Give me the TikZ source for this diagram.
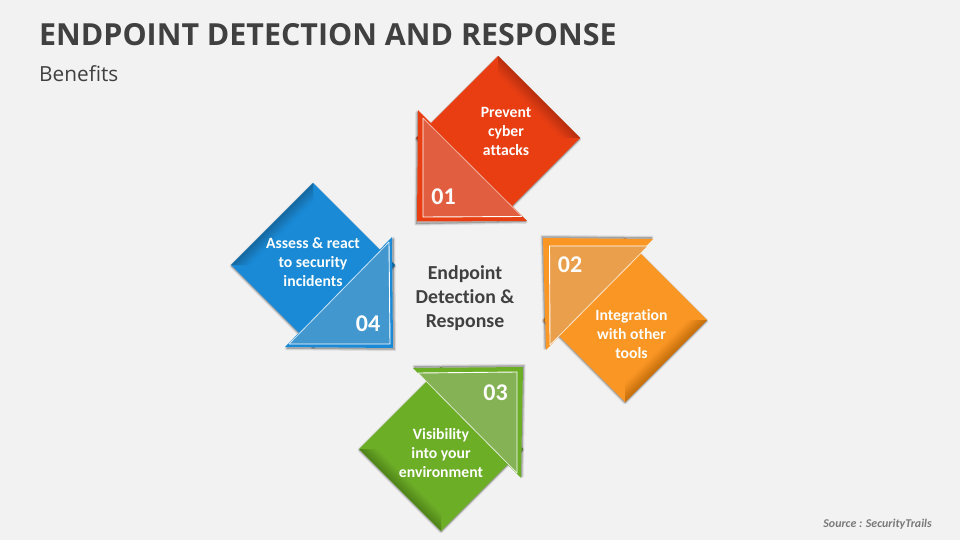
\documentclass[tikz,border=0pt]{standalone}
\usepackage{fontspec}
\setmainfont{Carlito}[Ligatures={NoCommon}]
\newfontfamily\titlefont{Open Sans}
\usetikzlibrary{calc}
\definecolor{bg}{HTML}{F2F2F2}
\definecolor{ink}{HTML}{404040}
\definecolor{redA}{HTML}{E93E12}\definecolor{redB}{HTML}{B93010}\definecolor{redT}{HTML}{E15F40}
\definecolor{orgA}{HTML}{FA9624}\definecolor{orgB}{HTML}{C66F0C}\definecolor{orgT}{HTML}{E99F4C}
\definecolor{grnA}{HTML}{6DAE27}\definecolor{grnB}{HTML}{4F8318}\definecolor{grnT}{HTML}{84B254}
\definecolor{bluA}{HTML}{1A8AD6}\definecolor{bluB}{HTML}{14689F}\definecolor{bluT}{HTML}{4297CF}
\tikzset{
  x=1pt,y=-1pt,
  label text/.style={text=white,font=\fontsize{15.7}{19}\selectfont\bfseries,align=center,inner sep=0pt},
  num text/.style={text=white,font=\fontsize{24}{26}\selectfont\bfseries,inner sep=0pt},
  centre text/.style={text=ink,font=\fontsize{19.8}{24}\selectfont\bfseries,align=center,inner sep=0pt},
  inner edge/.style={draw=white,line width=0.9pt,line join=miter},
}
% soft shadow under a closed path: #1 offset, #2 path
\newcommand{\softshadow}[2]{%
  \foreach \w in {3.5,2,0.8}{\draw[black,opacity=.07,line width=\w pt,fill=black,fill opacity=.07,line join=round,shift={#1}] #2;}}
% #1 cx, #2 cy, #3 half-diagonal, #4 rotation, #5 main, #6 dark
\newcommand{\badge}[6]{%
  \softshadow{(0,1)}{(#1,#2-#3)--(#1+#3,#2)--(#1,#2+#3)--(#1-#3,#2)--cycle}
  \fill[#5] (#1,#2-#3)--(#1+#3,#2)--(#1,#2+#3)--(#1-#3,#2)--cycle;
  \begin{scope}[shift={(#1,#2)},rotate=#4]
    \foreach \i in {0,...,12}{%
      \pgfmathsetmacro{\dd}{\i*1.4}%
      \pgfmathsetmacro{\mixv}{100-\i*100/13}%
      \fill[#6!\mixv!#5] (0,-#3+\dd)--(#3-\dd,0)--(#3-\dd-2,0)--(0,-#3+\dd+2)--cycle;
    }
  \end{scope}}
\begin{document}
\begin{tikzpicture}
\useasboundingbox (0,0) rectangle (960,540);
\fill[bg] (0,0) rectangle (960,540);

\node[anchor=west,inner sep=0pt,text=ink,font=\titlefont\fontsize{30.4}{36}\selectfont\bfseries] (title) at (39,35) {ENDPOINT DETECTION AND RESPONSE};
\node[anchor=west,inner sep=0pt,text=ink,font=\titlefont\fontsize{20.8}{24}\selectfont] (subtitle) at (39,73.5) {Benefits};

% Red
\badge{498}{138}{82}{0}{redA}{redB}
\softshadow{(-1,2)}{(418,110)--(527,220)--(417,222)--cycle}
\fill[redA] (418,110)--(527,221)--(417,221.5)--cycle;
\fill[redT] (423,118)--(522,216.5)--(423,217)--cycle;
\draw[inner edge] (423,118)--(423,217)--(522,216.5);
\draw[white,opacity=.55,line width=.8pt] (423,118)--(522,216.5);
\node[label text] (t1) at (506,131.5) {Prevent\\cyber\\attacks};
\node[num text] (n1) at (443.5,197) {01};

% Orange
\badge{625}{320}{82}{-90}{orgA}{orgB}
\softshadow{(-1,-1.5)}{(543,238)--(653,239)--(546,350)--cycle}
\fill[orgA] (543,238)--(653,239)--(546,350)--cycle;
\fill[orgT] (549.5,246)--(648,246)--(550,345)--cycle;
\draw[inner edge] (648,246)--(549.5,246)--(550,345);
\draw[white,opacity=.75,line width=.8pt] (648,246)--(550,345);
\node[label text] (t2) at (631.5,334) {Integration\\with other\\tools};
\node[num text] (n2) at (570,265) {02};

% Green
\badge{441}{449}{82}{180}{grnA}{grnB}
\softshadow{(1,-1.5)}{(413,368)--(523,367)--(521,478)--cycle}
\fill[grnA] (413,368)--(523,367)--(521,478)--cycle;
\fill[grnT] (418,373)--(517,372)--(517,473)--cycle;
\draw[inner edge] (418,373)--(517,372)--(517,473);
\draw[white,opacity=.75,line width=.8pt] (418,373)--(517,473);
\node[label text] (t3) at (441,453) {Visibility\\into your\\environment};
\node[num text] (n3) at (495.5,393) {03};

% Blue
\badge{313}{265}{82}{90}{bluA}{bluB}
\softshadow{(1.5,1.5)}{(392,237)--(393,348)--(285,347)--cycle}
\fill[bluA] (392,237)--(393,348)--(285,347)--cycle;
\fill[bluT] (389,242)--(390,344)--(289,344)--cycle;
\draw[inner edge] (389,242)--(390,344)--(289,344);
\draw[white,opacity=.75,line width=.8pt] (389,242)--(289,344);
\node[label text] (t4) at (313,262) {Assess \& react\\to security\\incidents};
\node[num text] (n4) at (368,323.5) {04};

\node[centre text] (centre) at (465,298) {Endpoint\\Detection \&\\Response};
\node[anchor=east,inner sep=0pt,text=ink!70,font=\fontsize{11.9}{14}\selectfont\bfseries\itshape] (source) at (932,524) {Source : SecurityTrails};
\end{tikzpicture}
\end{document}
